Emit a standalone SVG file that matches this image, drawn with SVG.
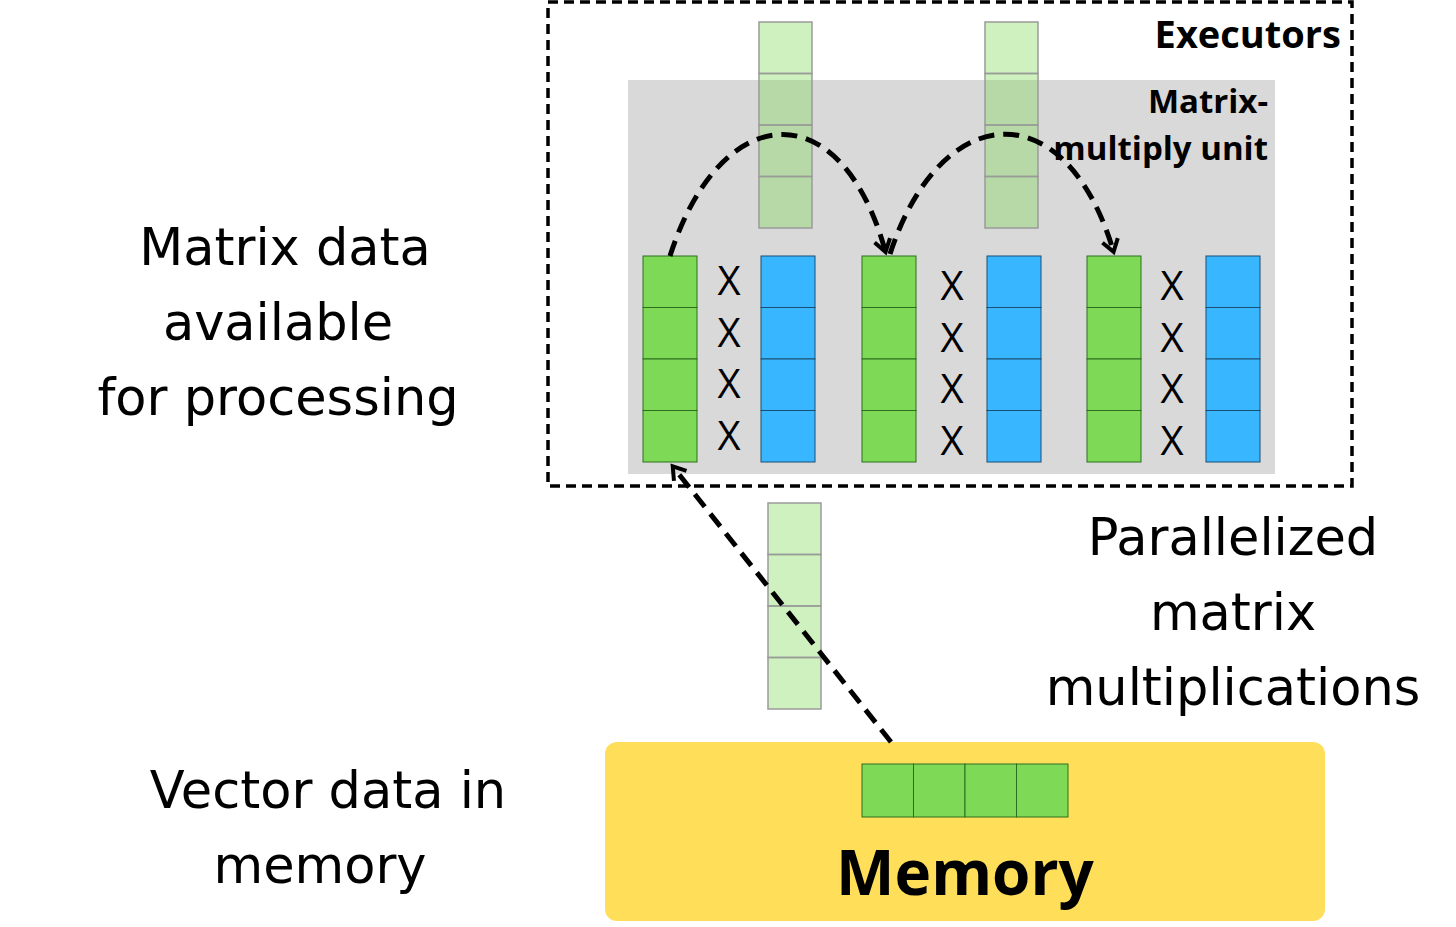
<svg xmlns="http://www.w3.org/2000/svg" width="1456" height="927" viewBox="0 0 1456 927">
<defs>
<style>
.g{fill:#7ed957;stroke:#2d6e1e;stroke-width:1}
.b{fill:#38b6ff;stroke:#1a4f73;stroke-width:1}
.f{fill:#7ed957;fill-opacity:0.38;stroke:#9a9a9a;stroke-width:1.5}
.x{font-family:"Open Sans",sans-serif;font-size:40px;text-anchor:middle;fill:#000}
.t{font-family:"DejaVu Sans",sans-serif;font-size:51px;text-anchor:middle;fill:#000}
.lb{font-family:"Open Sans",sans-serif;font-weight:bold;font-size:33px;text-anchor:end;fill:#000}
.c{fill:none;stroke:#000;stroke-width:5;stroke-dasharray:16 9}
</style>
<marker id="ah" viewBox="0 0 10 10" refX="6" refY="5" markerWidth="4" markerHeight="4" orient="auto">
<path d="M1,1 L7,5 L1,9" fill="none" stroke="#000" stroke-width="2"/>
</marker>
<g id="col">
<rect class="g" x="0" y="0" width="54" height="51.5"/>
<rect class="g" x="0" y="51.5" width="54" height="51.5"/>
<rect class="g" x="0" y="103" width="54" height="51.5"/>
<rect class="g" x="0" y="154.5" width="54" height="51.5"/>
</g>
<g id="bcol">
<rect class="b" x="0" y="0" width="54" height="51.5"/>
<rect class="b" x="0" y="51.5" width="54" height="51.5"/>
<rect class="b" x="0" y="103" width="54" height="51.5"/>
<rect class="b" x="0" y="154.5" width="54" height="51.5"/>
</g>
<g id="fcol">
<rect class="f" x="0" y="0" width="53" height="51.5"/>
<rect class="f" x="0" y="51.5" width="53" height="51.5"/>
<rect class="f" x="0" y="103" width="53" height="51.5"/>
<rect class="f" x="0" y="154.5" width="53" height="51.5"/>
</g>
</defs>
<rect width="1456" height="927" fill="#fff"/>
<g id="executors">
<rect x="548" y="2" width="804" height="484" fill="none" stroke="#000" stroke-width="3.5" stroke-dasharray="10 6"/>
<text class="lb" x="1341" y="48" style="font-size:38px">Executors</text>
</g>
<g id="mmu">
<rect x="628" y="80" width="647" height="394" fill="#d9d9d9"/>
<text class="lb" x="1268" y="113">Matrix-</text>
<text class="lb" x="1268" y="160">multiply unit</text>
</g>
<g id="faded">
<use href="#fcol" x="759" y="22"/>
<use href="#fcol" x="985" y="22"/>
<use href="#fcol" x="768" y="503"/>
</g>
<g id="group1">
<use href="#col" x="643" y="256"/>
<use href="#bcol" x="761" y="256"/>
<text class="x" x="729" y="295">X</text><text class="x" x="729" y="347">X</text><text class="x" x="729" y="398">X</text><text class="x" x="729" y="450">X</text>
</g>
<g id="group2">
<use href="#col" x="862" y="256"/>
<use href="#bcol" x="987" y="256"/>
<text class="x" x="952" y="300">X</text><text class="x" x="952" y="352">X</text><text class="x" x="952" y="403">X</text><text class="x" x="952" y="455">X</text>
</g>
<g id="group3">
<use href="#col" x="1087" y="256"/>
<use href="#bcol" x="1206" y="256"/>
<text class="x" x="1172" y="300">X</text><text class="x" x="1172" y="352">X</text><text class="x" x="1172" y="403">X</text><text class="x" x="1172" y="455">X</text>
</g>
<g id="memory">
<rect x="605" y="742" width="720" height="179" rx="12" fill="#ffde59"/>
<rect class="g" x="862" y="764" width="51.5" height="53"/>
<rect class="g" x="913.5" y="764" width="51.5" height="53"/>
<rect class="g" x="965" y="764" width="51.5" height="53"/>
<rect class="g" x="1016.5" y="764" width="51.5" height="53"/>
<text x="965" y="895" font-family="Open Sans,sans-serif" font-weight="bold" font-size="62" text-anchor="middle">Memory</text>
</g>
<g id="connectors">
<path class="c" d="M670,256 C720,100 840,90 885,250" marker-end="url(#ah)"/>
<path class="c" d="M890,254 C940,100 1065,90 1113,250" marker-end="url(#ah)"/>
<path class="c" d="M891,742 L674,468" marker-end="url(#ah)"/>
</g>
<g id="labels">
<text class="t" x="285" y="265">Matrix data</text>
<text class="t" x="278" y="340">available</text>
<text class="t" x="278" y="415">for processing</text>
<text class="t" x="1233" y="555">Parallelized</text>
<text class="t" x="1233" y="630">matrix</text>
<text class="t" x="1233" y="705">multiplications</text>
<text class="t" x="328" y="808">Vector data in</text>
<text class="t" x="320" y="883">memory</text>
</g>
</svg>
